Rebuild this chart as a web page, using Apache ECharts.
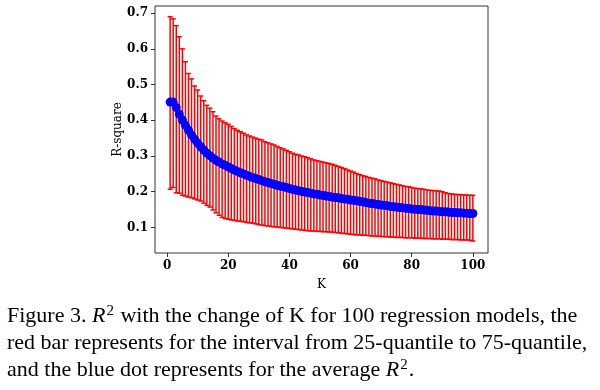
<!DOCTYPE html>
<html>
<head>
<meta charset="utf-8">
<script src="https://cdn.jsdelivr.net/npm/echarts@6/dist/echarts.min.js"></script>
<style>html,body{margin:0;padding:0;background:#fff;}#c{width:600px;height:390px;}</style>
</head>
<body>
<div id="c"></div>
<script>
// K values 1..100
const kValues = [1,2,3,4,5,6,7,8,9,10,11,12,13,14,15,16,17,18,19,20,21,22,23,24,25,26,27,28,29,30,31,32,33,34,35,36,37,38,39,40,41,42,43,44,45,46,47,48,49,50,51,52,53,54,55,56,57,58,59,60,61,62,63,64,65,66,67,68,69,70,71,72,73,74,75,76,77,78,79,80,81,82,83,84,85,86,87,88,89,90,91,92,93,94,95,96,97,98,99,100];

// 75-quantile (top of red bar)
const q75 = [0.690,0.684,0.665,0.634,0.600,0.564,0.531,0.516,0.496,0.485,0.468,0.455,0.442,0.434,0.424,0.412,0.404,0.398,0.393,0.389,
0.383,0.377,0.372,0.368,0.364,0.359,0.356,0.353,0.350,0.347,0.345,0.340,0.337,0.334,0.331,0.327,0.323,0.320,0.316,0.312,
0.308,0.305,0.303,0.300,0.298,0.295,0.292,0.289,0.287,0.285,0.283,0.281,0.279,0.277,0.274,0.271,0.268,0.265,0.261,0.258,
0.255,0.251,0.248,0.245,0.243,0.240,0.238,0.236,0.233,0.231,0.229,0.227,0.225,0.223,0.221,0.219,0.217,0.215,0.214,0.212,
0.210,0.209,0.208,0.207,0.205,0.204,0.203,0.203,0.202,0.200,0.197,0.195,0.194,0.193,0.192,0.192,0.191,0.191,0.190,0.190];

// 25-quantile (bottom of red bar)
const q25 = [0.207,0.212,0.197,0.196,0.190,0.188,0.185,0.183,0.180,0.177,0.174,0.168,0.162,0.157,0.149,0.141,0.134,0.128,0.125,0.123,
0.121,0.120,0.118,0.117,0.116,0.114,0.113,0.112,0.110,0.108,0.107,0.105,0.104,0.103,0.102,0.101,0.100,0.099,0.098,0.097,
0.096,0.095,0.094,0.093,0.092,0.091,0.090,0.090,0.089,0.089,0.088,0.088,0.087,0.087,0.086,0.085,0.084,0.083,0.082,0.081,
0.080,0.079,0.079,0.078,0.078,0.077,0.076,0.076,0.075,0.075,0.074,0.074,0.073,0.073,0.072,0.072,0.072,0.071,0.071,0.071,
0.070,0.070,0.070,0.069,0.069,0.069,0.068,0.068,0.068,0.067,0.067,0.067,0.066,0.066,0.066,0.065,0.065,0.065,0.064,0.062];

// average R^2 (blue dots)
const meanR2 = [0.451,0.451,0.436,0.417,0.401,0.386,0.372,0.359,0.347,0.336,0.326,0.317,0.308,0.301,0.294,0.288,0.283,0.278,0.274,0.270,
0.265,0.261,0.257,0.253,0.250,0.246,0.243,0.240,0.237,0.234,0.231,0.228,0.226,0.223,0.221,0.218,0.216,0.214,0.212,0.209,
0.207,0.205,0.203,0.201,0.199,0.198,0.196,0.194,0.193,0.191,0.190,0.188,0.187,0.185,0.184,0.183,0.181,0.180,0.179,0.177,
0.176,0.175,0.173,0.172,0.170,0.168,0.167,0.166,0.164,0.163,0.162,0.161,0.159,0.158,0.157,0.156,0.155,0.154,0.153,0.152,
0.151,0.150,0.150,0.149,0.148,0.147,0.146,0.146,0.145,0.144,0.144,0.143,0.142,0.142,0.141,0.141,0.140,0.140,0.139,0.139];

const xTicks = [0,20,40,60,80,100];
const yTicks = [0.1,0.2,0.3,0.4,0.5,0.6,0.7];

const captionLines = [
  'Figure 3. {i|R}{s|2} with the change of K for 100 regression models, the',
  'red bar represents for the interval from 25-quantile to 75-quantile,',
  'and the blue dot represents for the average {i|R}{s|2}.'
];

const chart = echarts.init(document.getElementById('c'), null, {renderer: 'canvas'});

const errData = kValues.map((k, i) => [k, q25[i], q75[i]]);
const meanData = kValues.map((k, i) => [k, meanR2[i]]);

const tickFont = {fontFamily: 'DejaVu Serif', fontWeight: 'bold', fontSize: 12, color: '#000'};
const serifCap = 'Liberation Serif';

const option = {
  animation: false,
  backgroundColor: '#fff',
  grid: {left: 155, top: 6, width: 333, height: 247, show: true, borderColor: '#333', borderWidth: 1, backgroundColor: 'transparent', outerBoundsMode: 'none'},
  xAxis: {
    type: 'value', min: -3.95, max: 104.95,
    name: 'K', nameLocation: 'middle', nameGap: 26, nameMoveOverlap: false,
    nameTextStyle: {fontFamily: 'DejaVu Serif', fontSize: 12, color: '#000'},
    axisLine: {show: false, onZero: false},
    axisTick: {show: true, inside: false, length: 4, customValues: xTicks, lineStyle: {color: '#333', width: 1}},
    axisLabel: Object.assign({customValues: xTicks, margin: 7, formatter: v => String(Math.round(v))}, tickFont),
    splitLine: {show: false}
  },
  yAxis: {
    type: 'value', min: 0.0285, max: 0.72,
    name: 'R-square', nameLocation: 'middle', nameGap: 31, nameMoveOverlap: false,
    nameTextStyle: {fontFamily: 'DejaVu Serif', fontSize: 12, color: '#000'},
    axisLine: {show: false, onZero: false},
    axisTick: {show: true, inside: false, length: 4, customValues: yTicks, lineStyle: {color: '#333', width: 1}},
    axisLabel: Object.assign({customValues: yTicks, margin: 7, formatter: v => v.toFixed(1)}, tickFont),
    splitLine: {show: false}
  },
  series: [
    {
      type: 'custom',
      data: errData,
      encode: {x: 0, y: [1, 2]},
      z: 2,
      renderItem: function (params, api) {
        const k = api.value(0);
        const top = api.coord([k, api.value(2)]);
        const bot = api.coord([k, api.value(1)]);
        const cap = 2.5;
        const st = {stroke: '#ff0000', lineWidth: 1.5};
        return {
          type: 'group',
          children: [
            {type: 'line', shape: {x1: top[0], y1: top[1], x2: bot[0], y2: bot[1]}, style: st},
            {type: 'line', shape: {x1: top[0] - cap, y1: top[1], x2: top[0] + cap, y2: top[1]}, style: st},
            {type: 'line', shape: {x1: bot[0] - cap, y1: bot[1], x2: bot[0] + cap, y2: bot[1]}, style: st}
          ]
        };
      }
    },
    {
      type: 'scatter',
      data: meanData,
      symbol: 'circle',
      symbolSize: 9,
      z: 3,
      itemStyle: {color: '#0000ff', opacity: 1}
    }
  ],
  graphic: captionLines.map((t, idx) => ({
    type: 'text',
    left: 7,
    top: 304 + idx * 27,
    style: {
      text: t,
      fontFamily: serifCap,
      fontSize: 22,
      fill: '#000',
      lineHeight: 24,
      rich: {
        i: {fontFamily: serifCap, fontStyle: 'italic', fontSize: 22, fill: '#000', lineHeight: 24},
        s: {fontFamily: serifCap, fontSize: 15, fill: '#000', lineHeight: 14, verticalAlign: 'top', padding: [0, 1, 0, 1]}
      }
    }
  }))
};

chart.setOption(option);
</script>
</body>
</html>
